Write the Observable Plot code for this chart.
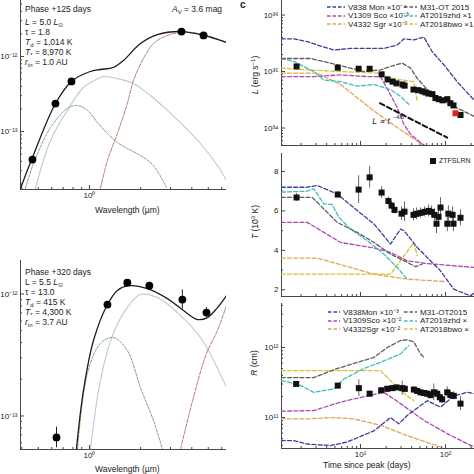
<!DOCTYPE html>
<html><head><meta charset="utf-8">
<script src="https://cdn.jsdelivr.net/npm/d3@7"></script>
<script src="https://cdn.jsdelivr.net/npm/@observablehq/plot@0.6"></script>
<style>
html,body{margin:0;padding:0;width:474px;height:474px;overflow:hidden;background:#fff;}
#root{position:relative;width:474px;height:474px;overflow:hidden;font-family:"Liberation Sans",Arial,sans-serif;color:#222;}
.p{position:absolute;}
.t{position:absolute;font-size:8.5px;white-space:nowrap;line-height:10px;}
.t sub{font-size:6px;vertical-align:-2px;line-height:0;}
.ax{position:absolute;font-size:8.5px;white-space:nowrap;line-height:10px;}
.rot{transform:translate(-50%,-50%) rotate(-90deg);}
.lg{position:absolute;font-size:8px;white-space:nowrap;line-height:9px;}
</style></head><body><div id="root"></div>
<script>
// ---------------- DATA ----------------
// SED panel 1 (phase +125 d): [wavelength µm, flux]
const sed1_total = [[0.393,1.74e-14],[0.462,4.50e-14],[0.631,2.36e-13],[0.784,4.65e-13],[1.01,6.31e-13],[1.16,6.71e-13],[1.38,7.13e-13],[1.585,8.85e-13],[1.995,1.49e-12],[2.51,1.96e-12],[3.52,2.15e-12],[4.69,1.91e-12],[6.4,1.54e-12]];
const sed1_star = [[0.481,1.74e-14],[0.59,7.59e-14],[0.742,1.91e-13],[0.922,3.86e-13],[1.16,5.25e-13],[1.21,5.41e-13],[1.46,5.09e-13],[1.815,4.37e-13],[2.285,3.02e-13],[2.875,1.91e-13],[3.57,1.20e-13],[4.5,6.92e-14],[5.66,3.52e-14],[6.4,2.22e-14]];
const sed1_hot = [[0.42,1.74e-14],[0.469,3.74e-14],[0.59,1.13e-13],[0.742,2.03e-13],[0.85,2.22e-13],[0.973,1.91e-13],[1.114,1.32e-13],[1.276,9.40e-14],[1.46,7.13e-14],[1.67,5.93e-14],[1.995,4.79e-14],[2.38,3.52e-14],[2.84,1.79e-14]];
const sed1_dust = [[1.16,1.74e-14],[1.276,4.10e-14],[1.46,9.40e-14],[1.67,2.36e-13],[1.815,4.79e-13],[2.08,9.40e-13],[2.38,1.49e-12],[2.875,1.91e-12],[3.52,2.09e-12],[4.69,1.96e-12],[6.4,1.54e-12]];
const sed1_lam = [0.462,0.631,0.784,3.48,4.69];
const sed1_flux = [4.23e-14,2.36e-13,4.65e-13,2.15e-12,1.91e-12];

// SED panel 2 (phase +320 d)
const sed2_total = [[0.838,5.31e-14],[0.922,1.62e-13],[1.056,4.16e-13],[1.276,8.20e-13],[1.46,1.07e-12],[1.696,1.17e-12],[2.19,1.11e-12],[2.875,9.18e-13],[3.77,6.92e-13],[4.32,6.18e-13],[4.94,6.41e-13],[5.66,7.74e-13],[6.4,9.72e-13]];
const sed2_star = [[1.014,5.31e-14],[1.16,1.95e-13],[1.38,4.74e-13],[1.67,7.74e-13],[1.995,9.9e-13],[2.51,9.35e-13],[3.29,7.05e-13],[4.5,4.40e-13],[6.4,1.71e-13]];
const sed2_hot = [[0.85,5.31e-14],[0.973,2.23e-13],[1.16,3.93e-13],[1.38,4.40e-13],[1.67,3.44e-13],[1.995,1.71e-13],[2.38,9.18e-14],[2.69,5.31e-14]];
const sed2_dust = [[3.43,5.31e-14],[4.09,1.42e-13],[4.88,3.25e-13],[5.66,5.01e-13],[6.4,8.05e-13]];
const sed2_lam = [0.64,1.276,1.67,2.25,3.52,4.88];
const sed2_flux = [6.67e-14,8.20e-13,1.24e-12,1.17e-12,9.0e-13,7.05e-13];
const sed2_err = [0.085,0,0,0,0.08,0.04]; // dex

// Panel c: luminosity [days, erg/s]
const L_V838 = [[1.17,3.80e35],[1.64,3.80e35],[2.36,3.39e35],[3.09,2.95e35],[4.85,2.40e35],[7.62,2.57e35],[18.8,2.57e35],[27.0,2.95e35],[32.4,3.80e35],[42.4,3.63e35],[55.6,4.07e35],[69.7,2.24e35],[95.5,1.32e35],[137,6.61e34],[215,3.16e34]];
const L_M31 = [[1.17,1.70e35],[2.58,1.70e35],[5.31,1.32e35],[10.9,1.0e35],[17.2,1.07e35],[22.5,1.23e35],[30.9,1.41e35],[38.7,1.15e35],[46.4,7.59e34],[60.8,4.79e34],[104.6,2.75e34],[215,1.62e34]];
const L_V1309 = [[1.17,8.13e34],[2.82,8.13e34],[5.82,8.71e34],[12.0,8.13e34],[17.2,8.13e34],[22.5,3.89e34],[27.0,2.29e34],[32.4,1.15e34],[38.7,7.76e33],[50.8,5.50e33],[60.8,4.57e33]];
const L_AT19 = [[1.17,1.70e35],[1.64,1.51e35],[2.82,1.0e35],[3.70,7.08e34],[5.82,6.61e34],[9.14,5.50e34],[14.4,5.89e34],[22.5,4.79e34],[29.6,3.63e34],[37.0,2.63e34]];
const L_V4332 = [[1.17,9.33e34],[3.09,9.33e34],[5.82,5.89e34],[14.4,2.0e34],[27.0,1.02e34],[46.4,5.89e33],[60.8,4.57e33]];
const L_AT18 = [[1.17,1.15e35],[2.36,1.07e35],[5.82,1.0e35],[17.2,9.33e34],[22.5,7.59e34],[42.4,6.61e34],[46.4,2.95e34]];
const L_pow = [[16.9,2.75e34],[104.7,6.76e33]];
const L_t = [1.77,5.4,9.5,12.8,17.7,20.8,23.8,26.5,31.2,33,42,48,53.5,58,63,70,76,83,92,105,114,124,150];
const L_val = [1.23e35,1.17e35,1.12e35,1.12e35,8.91e34,7.24e34,6.61e34,6.17e34,5.89e34,5.62e34,4.79e34,4.68e34,4.47e34,4.27e34,4.07e34,3.98e34,3.39e34,3.24e34,3.09e34,3.24e34,2.75e34,2.51e34,1.70e34];
const L_red = [[131,1.82e34]];

// Temperature [days, 10^3 K]
const T_V838 = [[1.17,7.2],[2.36,7.2],[3.09,7.29],[5.31,6.86],[9.14,6.02],[14.4,5.34],[22.5,4.32],[29.6,5.08],[32.4,5.0],[46.4,4.15],[60.8,3.64],[87.3,2.96],[125,2.03],[197,1.69],[219,1.86]];
const T_M31 = [[1.17,6.69],[2.70,6.69],[5.31,5.42],[9.14,4.91],[14.4,4.4],[22.5,3.81],[35.4,3.39],[44.4,3.17],[53.1,3.3]];
const T_AT19 = [[1.17,6.95],[2.36,7.0],[2.82,7.12],[3.70,6.36],[4.64,6.32],[5.56,5.68],[7.62,5.08],[12.0,4.49],[18.8,3.81],[27.0,3.13],[35.4,2.54]];
const T_V1309 = [[1.17,5.42],[2.36,5.42],[5.82,4.4],[14.4,4.12],[22.5,3.9],[35.4,3.47],[60.8,3.33],[219,3.13]];
const T_V4332 = [[1.17,3.61],[3.09,3.61],[14.4,2.79],[35.4,2.54],[95.5,2.42]];
const T_AT18 = [[1.17,2.79],[22.5,2.79],[42.4,4.4],[46.4,3.73]];
const T_t = [1.77,5.4,9.5,12.8,17.7,21.3,23.2,25.1,30.4,32.9,42,45.5,50.8,56.7,63.2,68.5,74.2,78.3,82.7,87.3,105,108,121,124,150];
const T_val = [6.68,6.83,7.08,7.7,6.93,6.5,6.27,6.05,5.86,5.96,5.8,5.85,5.9,5.95,6.0,5.95,5.8,5.35,5.7,6.17,5.35,5.86,5.8,5.35,5.65];
const T_err = [0.2,0.15,0.7,0.55,0.3,0.2,0.2,0.2,0.35,0.5,0.3,0.3,0.25,0.25,0.3,0.3,0.3,0.5,0.4,0.5,0.4,0.4,0.4,0.4,0.4];

// Radius [days, cm]
const R_V838 = [[1.17,4.68e10],[1.64,4.68e10],[2.36,4.17e10],[4.44,3.98e10],[6.97,4.47e10],[14.4,6.46e10],[22.5,1.0e11],[28.2,8.13e10],[35.4,1.07e11],[60.8,1.74e11],[87.3,1.41e11],[125,2.04e11],[180,2.29e11],[219,2.19e11]];
const R_M31 = [[1.17,3.72e11],[2.82,3.72e11],[5.31,5.01e11],[14.4,7.24e11],[20.6,1.0e12],[29.6,1.26e12],[35.4,1.29e12],[42.4,1.20e12],[50.8,8.13e11],[55.6,7.24e11]];
const R_AT19 = [[1.17,3.39e11],[1.97,2.88e11],[2.82,2.29e11],[4.85,2.57e11],[6.37,3.55e11],[10.9,5.01e11],[17.2,6.17e11],[29.6,8.13e11],[37.0,1.07e12]];
const R_V1309 = [[1.17,1.23e11],[2.82,1.26e11],[5.82,1.66e11],[12.0,2.04e11],[18.8,2.29e11],[29.6,1.58e11],[55.6,9.12e10],[104.6,5.89e10],[215,3.80e10]];
const R_V4332 = [[1.17,9.55e10],[2.36,9.55e10],[4.85,1.0e11],[8.35,9.55e10],[17.2,7.76e10],[35.4,5.50e10],[87.3,3.80e10]];
const R_AT18 = [[1.17,4.68e11],[17.2,4.68e11],[24.7,3.02e11],[35.4,2.04e11],[42.4,1.74e11]];
const R_t = [1.75,5.4,9.56,12.8,17.5,20.6,23.6,26.5,30.9,33.2,42.4,46.4,50.8,55.6,60.8,66.6,72.8,79.7,85.7,91.3,104.6,114.5,125,150];
const R_val = [3.02e11,2.86e11,2.63e11,2.19e11,2.45e11,2.57e11,2.63e11,2.69e11,2.63e11,2.57e11,2.51e11,2.40e11,2.29e11,2.24e11,2.19e11,2.09e11,2.29e11,2.19e11,1.95e11,1.82e11,2.29e11,2.09e11,2.04e11,1.58e11];
const R_err = [0.03,0.03,0.12,0.04,0.04,0.04,0.04,0.04,0.1,0.05,0.04,0.04,0.04,0.04,0.05,0.05,0.12,0.06,0.06,0.06,0.08,0.06,0.06,0.1]; // dex

const legendL = ["V838 Mon ×10⁻⁴","M31-OT 2015","V1309 Sco ×10⁻³","AT2019zhd ×1","V4332 Sgr ×10⁻²","AT2018bwo ×1"];
const legendR = ["V838Mon ×10⁻³","M31-OT2015","V1309Sco ×10⁻²","AT2019zhd ×","V4332Sgr ×10⁻²","AT2018bwo ×"];

// ---------------- STYLE ----------------
const C = {v838:"#3d3d9e", m31:"#5e5e5e", v1309:"#b046b4", at19:"#3fbcc6", v4332:"#e6a456", at18:"#d6c236"};
const legendColors = [C.v838, C.m31, C.v1309, C.at19, C.v4332, C.at18];
const FONT = '"Liberation Sans", Arial, sans-serif';
const root = document.getElementById("root");
const X = d => d[0], Y = d => d[1];
const supMap = {"-":"⁻","0":"⁰","1":"¹","2":"²","3":"³","4":"⁴","5":"⁵","6":"⁶","7":"⁷","8":"⁸","9":"⁹"};
const pow10 = d => "10" + String(Math.round(Math.log10(d))).split("").map(c => supMap[c]).join("");
const blank = () => "";
function logTicks(lo, hi, majorOnly) {
  const out = [];
  for (let e = Math.floor(Math.log10(lo)); e <= Math.ceil(Math.log10(hi)); e++)
    for (let m = 1; m < 10; m++) {
      if (majorOnly && m !== 1) continue;
      if (!majorOnly && m === 1) continue;
      const v = m * Math.pow(10, e);
      if (v >= lo && v <= hi) out.push(v);
    }
  return out;
}

function panel(box, xs, ys, opt, marks) {
  const mL = 40, mR = 2, mT = 2, mB = 16;
  const W = box[1] - box[0] + mL + mR, H = box[3] - box[2] + mT + mB;
  const xd = xs.domain, yd = ys.domain;
  const xMaj = opt.xMaj, yMaj = opt.yMaj;
  const axes = [
    Plot.ruleX([xd[0]], {stroke: "#333", strokeWidth: 0.9}),
    Plot.ruleY([yd[0]], {stroke: "#333", strokeWidth: 0.9}),
    Plot.axisX({ticks: opt.xMin, tickSize: -2, tickFormat: blank, label: null, stroke: "#444"}),
    Plot.axisX({ticks: xMaj, tickSize: -4, tickFormat: blank, label: null, stroke: "#444"}),
    opt.xLab ? Plot.axisX({ticks: xMaj, tickSize: 0, tickPadding: 3, tickFormat: pow10, label: null, fontSize: 8}) : null,
    Plot.axisY({ticks: opt.yMin, tickSize: -2, tickFormat: blank, label: null, stroke: "#444"}),
    Plot.axisY({ticks: yMaj, tickSize: -4, tickFormat: blank, label: null, stroke: "#444"}),
    Plot.axisY({ticks: yMaj, tickSize: 0, tickPadding: 3, tickFormat: opt.yFmt || pow10, label: null, fontSize: 8})
  ].filter(Boolean);
  const svg = Plot.plot({
    width: W, height: H, marginLeft: mL, marginRight: mR, marginTop: mT, marginBottom: mB,
    style: {background: "transparent", maxWidth: "none", fontFamily: FONT, fontSize: "8px", color: "#222", overflow: "visible"},
    x: xs, y: ys,
    marks: [...axes, ...marks]
  });
  const d = document.createElement("div");
  d.className = "p";
  d.style.left = (box[0] - mL) + "px"; d.style.top = (box[2] - mT) + "px";
  d.style.width = W + "px"; d.style.height = H + "px";
  d.appendChild(svg); root.appendChild(d);
}

function sedMarks(total, star, hot, dust) {
  return [
    Plot.line(star, {x: X, y: Y, stroke: "#b9c9da", strokeWidth: 1.1, curve: "catmull-rom", clip: true}),
    Plot.line(hot, {x: X, y: Y, stroke: "#79a679", strokeWidth: 1, strokeDasharray: "2.5,1.5", curve: "catmull-rom", clip: true}),
    Plot.line(dust, {x: X, y: Y, stroke: "#b57c6c", strokeWidth: 1, strokeDasharray: "4,1.5", curve: "catmull-rom", clip: true}),
    Plot.line(total, {x: X, y: Y, stroke: "#1e1e1e", strokeWidth: 1.3, curve: "catmull-rom", clip: true})
  ];
}

// ---------- SED panels ----------
const lamDom = [0.393, 6.4];
const lamMin = logTicks(lamDom[0], lamDom[1], false);
panel([20, 226, -2, 189],
  {type: "log", domain: lamDom},
  {type: "log", domain: [1.686e-14, 5.93e-12]},
  {xMaj: [1], xMin: lamMin, xLab: true, yMaj: [1e-13, 1e-12], yMin: logTicks(1.686e-14, 5.93e-12, false)},
  [...sedMarks(sed1_total, sed1_star, sed1_hot, sed1_dust),
   Plot.dot(sed1_lam.map((l, i) => [l, sed1_flux[i]]), {x: X, y: Y, r: 3.9, fill: "#000"})]);

const sed2pts = sed2_lam.map((l, i) => ({l, f: sed2_flux[i], e: sed2_err[i]}));
panel([20, 226, 260, 449],
  {type: "log", domain: lamDom},
  {type: "log", domain: [5.31e-14, 1.884e-12]},
  {xMaj: [1], xMin: lamMin, xLab: true, yMaj: [1e-13, 1e-12], yMin: logTicks(5.31e-14, 1.884e-12, false)},
  [...sedMarks(sed2_total, sed2_star, sed2_hot, sed2_dust),
   Plot.ruleX(sed2pts.filter(d => d.e > 0), {x: "l", y1: d => d.f * Math.pow(10, -d.e), y2: d => d.f * Math.pow(10, d.e), stroke: "#222", strokeWidth: 1}),
   Plot.dot(sed2pts, {x: "l", y: "f", r: 3.9, fill: "#000"})]);

// ---------- Panel c ----------
const tDom = [1.176, 338];
const tMaj = [10, 100];
const tMin = logTicks(tDom[0], tDom[1], false);
function cmpLines(sets) {
  return sets.map(([data, col]) => Plot.line(data, {x: X, y: Y, stroke: col, strokeWidth: 1.3, strokeDasharray: "4,2.2", clip: true}));
}
// L
const LDom = [4.9e33, 2.72e36];
panel([281, 490, -10, 145],
  {type: "log", domain: tDom},
  {type: "log", domain: LDom},
  {xMaj: tMaj, xMin: tMin, xLab: false, yMaj: [1e34, 1e35, 1e36], yMin: logTicks(LDom[0], LDom[1], false)},
  [...cmpLines([[L_AT18, C.at18], [L_V4332, C.v4332], [L_V1309, C.v1309], [L_AT19, C.at19], [L_M31, C.m31], [L_V838, C.v838]]),
   Plot.line(L_pow, {x: X, y: Y, stroke: "#111", strokeWidth: 2, strokeDasharray: "5,3"}),
   Plot.text([[13.7, 1.32e34]], {x: X, y: Y, text: () => "L ∝ t", textAnchor: "start", fontSize: 8.5, fontStyle: "italic", fill: "#222"}),
   Plot.text([[13.7, 1.32e34]], {x: X, y: Y, text: () => "−4/5", textAnchor: "start", fontSize: 5.5, dx: 21, dy: -4, fill: "#222"}),
   Plot.dot(L_t.map((t, i) => [t, L_val[i]]), {x: X, y: Y, symbol: "square", r: 3.4, fill: "#111"}),
   Plot.dot(L_red, {x: X, y: Y, symbol: "square", r: 3.4, fill: "#e0201c"})]);

// T
const TDom = [1.66, 8.91];
const Tpts = T_t.map((t, i) => ({t, v: T_val[i], e: T_err[i]}));
panel([281, 490, 153, 296],
  {type: "log", domain: tDom},
  {type: "linear", domain: TDom},
  {xMaj: tMaj, xMin: tMin, xLab: false, yMaj: [2, 4, 6, 8], yMin: [3, 5, 7], yFmt: d => String(d)},
  [...cmpLines([[T_AT18, C.at18], [T_V4332, C.v4332], [T_V1309, C.v1309], [T_AT19, C.at19], [T_M31, C.m31], [T_V838, C.v838]]),
   Plot.ruleX(Tpts, {x: "t", y1: d => d.v - d.e, y2: d => d.v + d.e, stroke: "#666", strokeWidth: 1}),
   Plot.dot(Tpts, {x: "t", y: "v", symbol: "square", r: 3.4, fill: "#111"})]);

// R
const RDom = [3.61e10, 4.26e12];
const Rpts = R_t.map((t, i) => ({t, v: R_val[i], e: R_err[i]}));
panel([281, 490, 303, 448],
  {type: "log", domain: tDom},
  {type: "log", domain: RDom},
  {xMaj: tMaj, xMin: tMin, xLab: true, yMaj: [1e11, 1e12], yMin: logTicks(RDom[0], RDom[1], false)},
  [...cmpLines([[R_AT18, C.at18], [R_V4332, C.v4332], [R_V1309, C.v1309], [R_AT19, C.at19], [R_M31, C.m31], [R_V838, C.v838]]),
   Plot.ruleX(Rpts, {x: "t", y1: d => d.v * Math.pow(10, -d.e), y2: d => d.v * Math.pow(10, d.e), stroke: "#666", strokeWidth: 1}),
   Plot.dot(Rpts, {x: "t", y: "v", symbol: "square", r: 3.4, fill: "#111"})]);

// ---------- Text overlays ----------
function addHTML(html) { root.insertAdjacentHTML("beforeend", html); }
addHTML(`<div class="t" style="left:25px;top:4px">Phase +125 days</div>
<div class="t" style="left:25px;top:17px"><i>L</i> = 5.0 <i>L</i><sub>⊙</sub><br>τ = 1.8<br><i>T</i><sub>d</sub> = 1,014 K<br><i>T</i><sub>*</sub> = 8,970 K<br><i>r</i><sub>in</sub> = 1.0 AU</div>
<div class="t" style="left:172px;top:4px"><i>A</i><sub>V</sub> = 3.6 mag</div>
<div class="ax" style="left:95px;top:205px">Wavelength (µm)</div>
<div class="t" style="left:25px;top:267px">Phase +320 days<br>L = 5.5 <i>L</i><sub>⊙</sub><br>τ = 13.0<br><i>T</i><sub>d</sub> = 415 K<br><i>T</i><sub>*</sub> = 4,300 K<br><i>r</i><sub>in</sub> = 3.7 AU</div>
<div class="ax" style="left:95px;top:464px">Wavelength (µm)</div>
<div class="ax" style="left:240px;top:0px;font-weight:bold;font-size:10px;line-height:10px">c</div>
<div class="ax rot" style="left:254px;top:75px"><i>L</i> (erg s<sup style="font-size:6px">−1</sup>)</div>
<div class="ax rot" style="left:254px;top:222px"><i>T</i> (10<sup style="font-size:6px">3</sup> K)</div>
<div class="ax rot" style="left:254px;top:363px"><i>R</i> (cm)</div>
<div class="ax" style="left:323px;top:460px">Time since peak (days)</div>
<div class="lg" style="left:430px;top:156px;font-size:7px"><span style="display:inline-block;width:6px;height:6px;background:#111;margin-right:3px;vertical-align:-0.5px"></span>ZTFSLRN</div>`);

function legendBlock(names, rows, col1, col2) {
  names.forEach((name, i) => {
    const col = i % 2 === 0 ? col1 : col2;
    const y = rows[Math.floor(i / 2)];
    const sw = `<svg style="position:absolute;left:${col[0]}px;top:${y - 2}px" width="${col[1]}" height="4"><line x1="0" y1="2" x2="${col[1]}" y2="2" stroke="${legendColors[i]}" stroke-width="1.3" stroke-dasharray="3.5,2"/></svg>`;
    addHTML(sw + `<div class="lg" style="left:${col[0] + col[1] + 3}px;top:${y - 4.5}px">${name}</div>`);
  });
}
legendBlock(legendL, [7, 15.5, 24], [327, 18], [404, 13]);
legendBlock(legendR, [312, 320.5, 329], [328, 12], [404, 13]);
</script>
</body></html>
